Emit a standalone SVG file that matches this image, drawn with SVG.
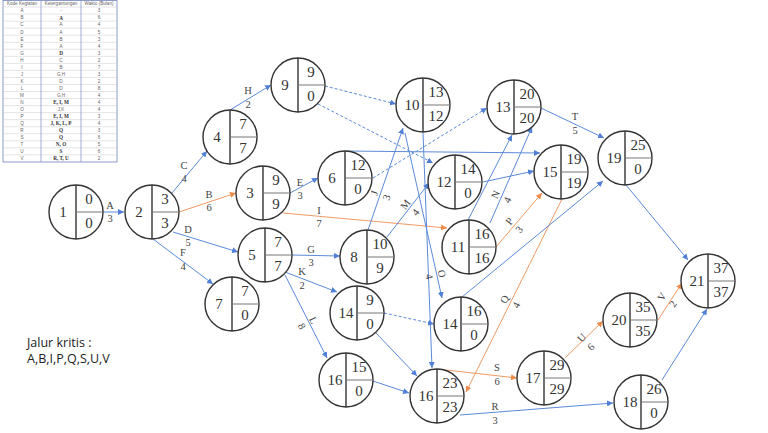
<svg xmlns="http://www.w3.org/2000/svg" width="768" height="433" viewBox="0 0 768 433">
<defs>
<marker id="ab" viewBox="0 0 10 10" refX="10" refY="5" markerWidth="6" markerHeight="6" markerUnits="userSpaceOnUse" orient="auto"><path d="M0,0 L10,5 L0,10 z" fill="#4f7fd6"/></marker>
<marker id="ao" viewBox="0 0 10 10" refX="10" refY="5" markerWidth="6" markerHeight="6" markerUnits="userSpaceOnUse" orient="auto"><path d="M0,0 L10,5 L0,10 z" fill="#f08a4b"/></marker>
<g id="nodeshape"><circle r="27" fill="#fff" stroke="#333" stroke-width="1.4"/><line x1="0" y1="-27" x2="0" y2="27" stroke="#333" stroke-width="1.4"/><line x1="0" y1="0" x2="27" y2="0" stroke="#777" stroke-width="1"/></g>
</defs>
<style>
.b{stroke:#5b8ad8;stroke-width:1;fill:none;marker-end:url(#ab)}
.o{stroke:#f29a62;stroke-width:1;fill:none;marker-end:url(#ao)}
.d{stroke-dasharray:3,2}
.nt{font-family:"Liberation Serif",serif;font-size:15px;fill:#333;text-anchor:middle}
.lb{font-family:"Liberation Serif",serif;font-size:10.5px;fill:#444;text-anchor:middle}
.tb{font-family:"Liberation Sans",sans-serif;font-size:4.6px;fill:#666;text-anchor:middle}
.tbb{font-family:"Liberation Serif",serif;font-size:5.2px;font-weight:bold;fill:#333;text-anchor:middle}
.jk{font-family:"Open Sans","Liberation Sans",sans-serif;font-size:12.5px;fill:#222}
</style>
<rect width="768" height="433" fill="#fff"/>

<g id="table">
<rect x="3" y="0.5" width="114" height="161.5" fill="#fff" stroke="#8c9bc9" stroke-width="1"/>
<g stroke="#c8c8c8" stroke-width="0.5">
<line x1="3" y1="7.04" x2="117" y2="7.04"/><line x1="3" y1="14.08" x2="117" y2="14.08"/><line x1="3" y1="21.12" x2="117" y2="21.12"/><line x1="3" y1="28.16" x2="117" y2="28.16"/><line x1="3" y1="35.2" x2="117" y2="35.2"/><line x1="3" y1="42.24" x2="117" y2="42.24"/><line x1="3" y1="49.28" x2="117" y2="49.28"/><line x1="3" y1="56.32" x2="117" y2="56.32"/><line x1="3" y1="63.36" x2="117" y2="63.36"/><line x1="3" y1="70.4" x2="117" y2="70.4"/><line x1="3" y1="77.44" x2="117" y2="77.44"/><line x1="3" y1="84.48" x2="117" y2="84.48"/><line x1="3" y1="91.52" x2="117" y2="91.52"/><line x1="3" y1="98.56" x2="117" y2="98.56"/><line x1="3" y1="105.6" x2="117" y2="105.6"/><line x1="3" y1="112.64" x2="117" y2="112.64"/><line x1="3" y1="119.68" x2="117" y2="119.68"/><line x1="3" y1="126.72" x2="117" y2="126.72"/><line x1="3" y1="133.76" x2="117" y2="133.76"/><line x1="3" y1="140.8" x2="117" y2="140.8"/><line x1="3" y1="147.84" x2="117" y2="147.84"/><line x1="3" y1="154.88" x2="117" y2="154.88"/>
</g>
<g stroke="#8c9bc9" stroke-width="0.8"><line x1="41" y1="0.5" x2="41" y2="162"/><line x1="81" y1="0.5" x2="81" y2="162"/></g>
<g class="tb">
<text x="22" y="5.3">Kode Kegiatan</text><text x="61" y="5.3">Ketergantungan</text><text x="99" y="5.3">Waktu (Bulan)</text>
<text x="22" y="12.3">A</text><text x="61" y="12.3">-</text><text x="99" y="12.3">3</text>
<text x="22" y="19.4">B</text><text x="99" y="19.4">6</text>
<text x="22" y="26.4">C</text><text x="61" y="26.4">A</text><text x="99" y="26.4">4</text>
<text x="22" y="33.5">D</text><text x="61" y="33.5">A</text><text x="99" y="33.5">5</text>
<text x="22" y="40.5">E</text><text x="61" y="40.5">B</text><text x="99" y="40.5">3</text>
<text x="22" y="47.5">F</text><text x="61" y="47.5">A</text><text x="99" y="47.5">4</text>
<text x="22" y="54.6">G</text><text x="99" y="54.6">3</text>
<text x="22" y="61.6">H</text><text x="61" y="61.6">C</text><text x="99" y="61.6">2</text>
<text x="22" y="68.7">I</text><text x="61" y="68.7">B</text><text x="99" y="68.7">7</text>
<text x="22" y="75.7">J</text><text x="61" y="75.7">G,H</text><text x="99" y="75.7">3</text>
<text x="22" y="82.8">K</text><text x="61" y="82.8">D</text><text x="99" y="82.8">2</text>
<text x="22" y="89.8">L</text><text x="61" y="89.8">D</text><text x="99" y="89.8">8</text>
<text x="22" y="96.8">M</text><text x="61" y="96.8">G,H</text><text x="99" y="96.8">4</text>
<text x="22" y="103.9">N</text><text x="99" y="103.9">4</text>
<text x="22" y="110.9">O</text><text x="61" y="110.9">J,K</text><text x="99" y="110.9">4</text>
<text x="22" y="118">P</text><text x="99" y="118">3</text>
<text x="22" y="125">Q</text><text x="99" y="125">4</text>
<text x="22" y="132.1">R</text><text x="99" y="132.1">3</text>
<text x="22" y="139.1">S</text><text x="99" y="139.1">6</text>
<text x="22" y="146.1">T</text><text x="99" y="146.1">5</text>
<text x="22" y="153.2">U</text><text x="99" y="153.2">6</text>
<text x="22" y="160.2">V</text><text x="99" y="160.2">2</text>
</g>
<g class="tbb">
<text x="61" y="19.6">A</text><text x="61" y="54.8">D</text>
<text x="61" y="104.1">E, I, M</text><text x="61" y="118.2">E, I, M</text><text x="61" y="125.2">J, K, L, P</text>
<text x="61" y="132.3">Q</text><text x="61" y="139.3">Q</text><text x="61" y="146.3">N, O</text><text x="61" y="153.4">S</text><text x="61" y="160.4">R, T, U</text>
</g>
</g>

<g id="connectors">
<line class="b" x1="103" y1="212" x2="124" y2="212"/>
<line class="b" x1="172" y1="193" x2="207" y2="151"/>
<line class="o" x1="179" y1="212" x2="236" y2="193"/>
<line class="b" x1="173" y1="232" x2="238" y2="252"/>
<line class="b" x1="153" y1="239" x2="213" y2="284"/>
<line class="b" x1="230" y1="110" x2="271" y2="85"/>
<line class="b" x1="290" y1="193" x2="318" y2="178"/>
<line class="o" x1="283" y1="213" x2="447" y2="228"/>
<line class="b d" x1="325" y1="86" x2="396" y2="104"/>
<line class="b d" x1="318" y1="104" x2="433" y2="163"/>
<polyline class="b" points="346,151 540,153"/>
<line class="b d" x1="373" y1="178" x2="487" y2="108"/>
<line class="b" x1="368" y1="230" x2="403" y2="128"/>
<line class="b" x1="387" y1="237" x2="429" y2="183"/>
<line class="b" x1="483" y1="182" x2="534" y2="171"/>
<line class="b" x1="468" y1="220" x2="512" y2="135"/>
<line class="b" x1="490" y1="223" x2="532" y2="127"/>
<line class="o" x1="496" y1="247" x2="542" y2="193"/>
<line class="o" x1="562" y1="199" x2="466" y2="392"/>
<line class="b" x1="541" y1="108" x2="604" y2="138"/>
<line class="b" x1="626" y1="185" x2="688" y2="260"/>
<line class="b" x1="462" y1="297" x2="603" y2="181"/>
<line class="b" x1="405" y1="133" x2="442" y2="298"/>
<line class="b" x1="423" y1="133" x2="432" y2="368"/>
<line class="b" x1="292" y1="255" x2="340" y2="256"/>
<line class="b" x1="285" y1="272" x2="337" y2="292"/>
<line class="b" x1="285" y1="275" x2="327" y2="358"/>
<line class="b d" x1="384" y1="313" x2="434" y2="324"/>
<line class="b" x1="376" y1="333" x2="417" y2="376"/>
<line class="b" x1="373" y1="381" x2="409" y2="393"/>
<line class="o" x1="437" y1="369" x2="517" y2="378"/>
<line class="b" x1="460" y1="415" x2="613" y2="403"/>
<line class="o" x1="565" y1="358" x2="603" y2="321"/>
<line class="o" x1="658" y1="320" x2="682" y2="283"/>
<line class="b" x1="662" y1="380" x2="707" y2="309"/>

<g class="lb">
<text x="110" y="209">A</text><text x="110" y="222">3</text>
<text x="184" y="169">C</text><text x="184" y="182">4</text>
<text x="209" y="198">B</text><text x="209" y="211">6</text>
<text x="188" y="233">D</text><text x="188" y="246">5</text>
<text x="183" y="256">F</text><text x="183" y="270">4</text>
<text x="248" y="94">H</text><text x="248" y="108">2</text>
<text x="300" y="186">E</text><text x="300" y="199">3</text>
<text x="319" y="214">I</text><text x="319" y="227">7</text>
<text x="311" y="253">G</text><text x="311" y="266">3</text>
<text x="302" y="275">K</text><text x="302" y="289">2</text>
<text x="575" y="120">T</text><text x="575" y="134">5</text>
<text x="497" y="371">S</text><text x="497" y="385">6</text>
<text x="495" y="410">R</text><text x="495" y="424">3</text>
<g transform="translate(380,195) rotate(-71)"><text y="-2.5">J</text><text y="10.5">3</text></g>
<g transform="translate(410,208) rotate(-52)"><text y="-2.5">M</text><text y="10.5">4</text></g>
<g transform="translate(501,197) rotate(-66)"><text y="-2.5">N</text><text y="10.5">4</text></g>
<g transform="translate(514,225) rotate(-50)"><text y="-2.5">P</text><text y="10.5">3</text></g>
<g transform="translate(510,302) rotate(-64)"><text y="-2.5">Q</text><text y="10.5">4</text></g>
<g transform="translate(436,275) rotate(77)"><text y="-2.5">O</text><text y="10.5">4</text></g>
<g transform="translate(308,323) rotate(63)"><text y="-2.5">L</text><text y="10.5">8</text></g>
<g transform="translate(586,342) rotate(-45)"><text y="-2.5">U</text><text y="10.5">6</text></g>
<g transform="translate(667,300) rotate(-57)"><text y="-2.5">V</text><text y="10.5">2</text></g>
</g>
</g>

<g id="n1" transform="translate(76,212)"><use href="#nodeshape"/><text class="nt" x="-13" y="5">1</text><text class="nt" x="13" y="-8">0</text><text class="nt" x="13" y="16">0</text></g>
<g id="n2" transform="translate(152,212)"><use href="#nodeshape"/><text class="nt" x="-13" y="5">2</text><text class="nt" x="13" y="-8">3</text><text class="nt" x="13" y="16">3</text></g>
<g id="n3" transform="translate(263,193)"><use href="#nodeshape"/><text class="nt" x="-13" y="5">3</text><text class="nt" x="13" y="-8">9</text><text class="nt" x="13" y="16">9</text></g>
<g id="n4" transform="translate(230,137)"><use href="#nodeshape"/><text class="nt" x="-13" y="5">4</text><text class="nt" x="13" y="-8">7</text><text class="nt" x="13" y="16">7</text></g>
<g id="n5" transform="translate(265,255)"><use href="#nodeshape"/><text class="nt" x="-13" y="5">5</text><text class="nt" x="13" y="-8">7</text><text class="nt" x="13" y="16">7</text></g>
<g id="n6" transform="translate(345,178)"><use href="#nodeshape"/><text class="nt" x="-13" y="5">6</text><text class="nt" x="13" y="-8">12</text><text class="nt" x="13" y="16">0</text></g>
<g id="n7" transform="translate(232,304)"><use href="#nodeshape"/><text class="nt" x="-13" y="5">7</text><text class="nt" x="13" y="-8">7</text><text class="nt" x="13" y="16">0</text></g>
<g id="n8" transform="translate(367,257)"><use href="#nodeshape"/><text class="nt" x="-13" y="5">8</text><text class="nt" x="13" y="-8">10</text><text class="nt" x="13" y="16">9</text></g>
<g id="n9" transform="translate(298,85)"><use href="#nodeshape"/><text class="nt" x="-13" y="5">9</text><text class="nt" x="13" y="-8">9</text><text class="nt" x="13" y="16">0</text></g>
<g id="n10" transform="translate(423,105)"><use href="#nodeshape"/><text class="nt" x="-11" y="5">10</text><text class="nt" x="13" y="-8">13</text><text class="nt" x="13" y="16">12</text></g>
<g id="n11" transform="translate(469,247)"><use href="#nodeshape"/><text class="nt" x="-11" y="5">11</text><text class="nt" x="13" y="-8">16</text><text class="nt" x="13" y="16">16</text></g>
<g id="n12" transform="translate(455,182)"><use href="#nodeshape"/><text class="nt" x="-11" y="5">12</text><text class="nt" x="13" y="-8">14</text><text class="nt" x="13" y="16">0</text></g>
<g id="n13" transform="translate(514,107)"><use href="#nodeshape"/><text class="nt" x="-11" y="5">13</text><text class="nt" x="13" y="-8">20</text><text class="nt" x="13" y="16">20</text></g>
<g id="n14a" transform="translate(357,313)"><use href="#nodeshape"/><text class="nt" x="-11" y="5">14</text><text class="nt" x="13" y="-8">9</text><text class="nt" x="13" y="16">0</text></g>
<g id="n14b" transform="translate(461,324)"><use href="#nodeshape"/><text class="nt" x="-11" y="5">14</text><text class="nt" x="13" y="-8">16</text><text class="nt" x="13" y="16">0</text></g>
<g id="n15" transform="translate(561,172)"><use href="#nodeshape"/><text class="nt" x="-11" y="5">15</text><text class="nt" x="13" y="-8">19</text><text class="nt" x="13" y="16">19</text></g>
<g id="n16a" transform="translate(346,380)"><use href="#nodeshape"/><text class="nt" x="-11" y="5">16</text><text class="nt" x="13" y="-8">15</text><text class="nt" x="13" y="16">0</text></g>
<g id="n16b" transform="translate(437,396)"><use href="#nodeshape"/><text class="nt" x="-11" y="5">16</text><text class="nt" x="13" y="-8">23</text><text class="nt" x="13" y="16">23</text></g>
<g id="n17" transform="translate(544,378)"><use href="#nodeshape"/><text class="nt" x="-11" y="5">17</text><text class="nt" x="13" y="-8">29</text><text class="nt" x="13" y="16">29</text></g>
<g id="n18" transform="translate(641,402)"><use href="#nodeshape"/><text class="nt" x="-11" y="5">18</text><text class="nt" x="13" y="-8">26</text><text class="nt" x="13" y="16">0</text></g>
<g id="n19" transform="translate(625,158)"><use href="#nodeshape"/><text class="nt" x="-11" y="5">19</text><text class="nt" x="13" y="-8">25</text><text class="nt" x="13" y="16">0</text></g>
<g id="n20" transform="translate(630,320)"><use href="#nodeshape"/><text class="nt" x="-11" y="5">20</text><text class="nt" x="13" y="-8">35</text><text class="nt" x="13" y="16">35</text></g>
<g id="n21" transform="translate(708,281)"><use href="#nodeshape"/><text class="nt" x="-11" y="5">21</text><text class="nt" x="13" y="-8">37</text><text class="nt" x="13" y="16">37</text></g>

<g id="critical">
<text class="jk" x="27" y="347">Jalur kritis :</text>
<text class="jk" x="27" y="363">A,B,I,P,Q,S,U,V</text>
</g>
</svg>
